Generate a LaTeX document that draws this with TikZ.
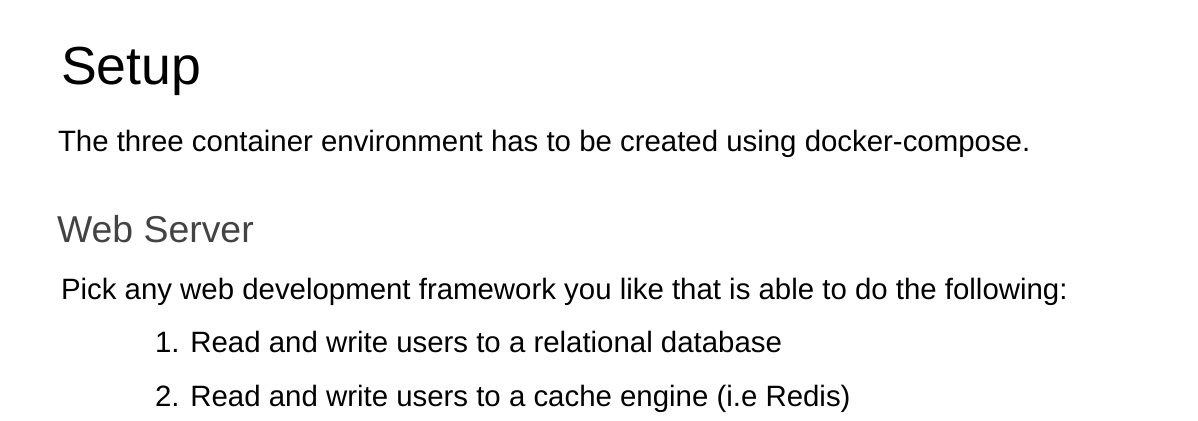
\documentclass[tikz,border=0pt]{standalone}
\usepackage{fontspec}
\setmainfont{Liberation Sans}
\definecolor{hgrey}{HTML}{434343}
\tikzset{txt/.style={anchor=base west,inner sep=0pt,outer sep=0pt}}
\begin{document}
\begin{tikzpicture}[x=0.5pt,y=-0.5pt]
\useasboundingbox (0,0) rectangle (1198,421);
\node[txt,font=\fontsize{26.8}{30}\selectfont] (title) at (61,85) {Setup};
\node[txt,font=\fontsize{14.7}{17}\selectfont] (intro) at (58,152) {The three container environment has to be created using docker-compose.};
\node[txt,font=\fontsize{18.7}{21}\selectfont,text=hgrey] (web) at (57,243) {Web Server};
\node[txt,font=\fontsize{14.7}{17}\selectfont] (pick) at (61,300) {Pick any web development framework you like that is able to do the following:};
\node[txt,font=\fontsize{14.7}{17}\selectfont] (i1) at (155,353) {1. Read and write users to a relational database};
\node[txt,font=\fontsize{14.7}{17}\selectfont] (i2) at (155,407) {2. Read and write users to a cache engine (i.e Redis)};
\end{tikzpicture}
\end{document}
